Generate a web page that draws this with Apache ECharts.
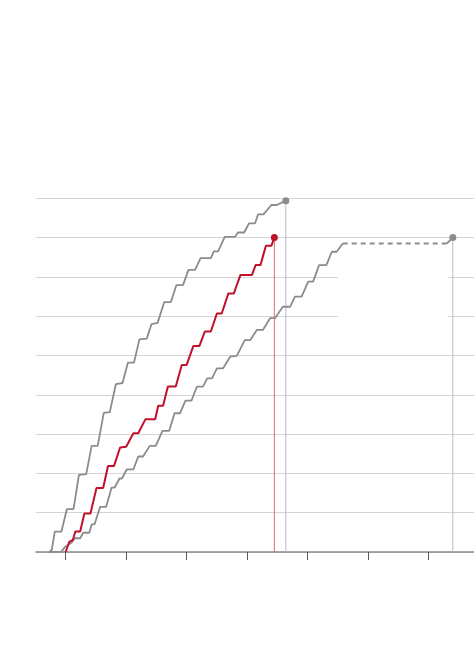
<!DOCTYPE html>
<html>
<head>
<meta charset="utf-8">
<script src="https://cdn.jsdelivr.net/npm/echarts@6/dist/echarts.min.js"></script>
<style>
html,body{margin:0;padding:0;background:#fff;}
#chart{width:474px;height:671px;}
</style>
</head>
<body>
<div id="chart"></div>
<script>
// x ticks and y gridlines
var xTicks = [0, 10, 20, 30, 40, 50, 60];
// Fast (gray) pace line
var fastX = [-2.7,-2.3,-1.8,-0.7,0.2,1.3,2.2,3.4,4.3,5.3,6.3,7.3,8.3,9.4,10.3,11.3,12.2,13.4,14.2,15.2,16.3,17.4,18.3,19.4,20.3,21.4,22.3,24.0,24.5,25.2,26.3,28.0,28.5,29.5,30.3,31.3,31.8,32.7,34.0,34.9,36.4];
var fastY = [0,0.5,5.2,5.2,10.9,10.9,19.6,19.8,27.0,27.0,35.4,35.6,42.7,43.0,48.2,48.2,54.1,54.3,58.0,58.3,63.6,63.6,67.9,67.9,71.8,71.8,74.8,74.8,76.5,76.5,80.2,80.2,81.3,81.3,83.6,83.6,85.9,85.9,88.3,88.3,89.4];
// Red (highlighted) line
var redX = [0,0.6,1.2,1.6,2.4,3.1,4.1,5.1,6.2,7.0,8.0,9.0,10.0,11.2,12.0,13.2,14.8,15.3,16.1,16.9,18.2,19.2,20.0,21.1,22.1,23.0,24.0,25.0,25.8,26.9,27.8,28.9,30.8,31.4,32.2,33.1,34.0,34.5];
var redY = [0,2.6,3.1,5.2,5.2,9.8,9.8,16.3,16.3,21.9,21.9,26.6,26.8,30.2,30.2,33.8,33.8,37.2,37.2,42.1,42.1,47.6,47.6,52.4,52.4,56.1,56.1,60.7,60.7,65.8,65.8,70.5,70.5,73.0,73.0,77.9,77.9,80.0];
// Slow (gray) line
var slowX = [-2.6,-0.7,-0.1,1.0,1.5,2.4,2.9,3.9,4.3,4.8,5.7,6.7,7.6,8.1,8.9,9.3,10.1,11.2,12.0,12.8,13.9,14.9,16.0,17.1,18.0,18.9,19.8,20.8,21.7,22.7,23.4,24.2,25.0,26.0,27.2,28.3,29.6,30.5,31.6,32.6,33.8,34.6,35.9,37.1,37.9,39.0,40.1,40.9,41.9,43.1,44.0,44.8,45.8];
var slowY = [0,0.1,1.3,2.4,3.5,3.5,4.9,4.9,7.0,7.1,11.5,11.5,16.4,16.4,18.7,18.7,21.0,21.0,24.3,24.3,27.0,27.0,30.8,30.8,35.3,35.3,38.5,38.5,42.1,42.1,44.2,44.2,46.7,46.7,49.7,49.9,53.9,53.9,56.5,56.5,59.5,59.5,62.4,62.4,65.0,65.0,68.8,68.8,73.0,73.0,76.4,76.4,78.5];
// Projected (dashed) continuation of slow line and its end point
var projX = [45.8, 63.0];
var projY = [78.5, 78.5];
var endX = [63.0, 64.0];
var endY = [78.5, 80.0];

function pairs(xs, ys) { return xs.map(function (x, i) { return [x, ys[i]]; }); }
function drop(x, y) { return [[x, 0], [x, y]]; }

var chart = echarts.init(document.getElementById('chart'), null, {renderer: 'canvas'});
var gray = '#8c8c8c';
var red = '#c0112b';

chart.setOption({
  backgroundColor: '#ffffff',
  animation: false,
  grid: {left: 36, right: 0, top: 198.3, bottom: 119},
  xAxis: {
    type: 'value', min: -4.9, max: 67.5,
    axisLine: {show: true, lineStyle: {color: '#8a8a8a', width: 1.5}},
    axisTick: {show: true, customValues: xTicks, length: 8, lineStyle: {color: '#555', width: 1}},
    axisLabel: {show: false, customValues: xTicks},
    splitLine: {show: false}
  },
  yAxis: {
    type: 'value', min: 0, max: 90, interval: 10,
    axisLine: {show: false}, axisTick: {show: false}, axisLabel: {show: false},
    splitLine: {show: true, lineStyle: {color: '#d4d4d4', width: 1}}
  },
  series: [
    {type: 'line', data: drop(34.5, 80.0), symbol: 'none', lineStyle: {color: '#de6b78', width: 1}, z: 1, silent: true},
    {type: 'line', data: drop(36.4, 89.4), symbol: 'none', lineStyle: {color: '#b3bacb', width: 1}, z: 1, silent: true},
    {type: 'line', data: drop(64.0, 80.0), symbol: 'none', lineStyle: {color: '#bdbdbd', width: 1}, z: 1, silent: true,
      markArea: {silent: true, itemStyle: {color: '#ffffff'}, data: [[{coord: [45.0, 58.5]}, {coord: [63.2, 71.5]}]]}},
    {type: 'line', data: pairs(slowX, slowY), symbol: 'none', lineStyle: {color: gray, width: 1.8}, z: 3},
    {type: 'line', data: pairs(projX, projY), symbol: 'none', lineStyle: {color: gray, width: 1.8, type: [5, 4]}, z: 3},
    {type: 'line', data: pairs(endX, endY), symbol: 'none', lineStyle: {color: gray, width: 1.8}, z: 3},
    {type: 'scatter', data: [[64.0, 80.0]], symbolSize: 7, itemStyle: {color: gray, opacity: 1}, z: 4},
    {type: 'line', data: pairs(fastX, fastY), symbol: 'none', lineStyle: {color: gray, width: 1.8}, z: 3},
    {type: 'scatter', data: [[36.4, 89.4]], symbolSize: 7, itemStyle: {color: gray, opacity: 1}, z: 4},
    {type: 'line', data: pairs(redX, redY), symbol: 'none', lineStyle: {color: red, width: 2}, z: 5},
    {type: 'scatter', data: [[34.5, 80.0]], symbolSize: 7, itemStyle: {color: red, opacity: 1}, z: 6}
  ]
});
</script>
</body>
</html>
